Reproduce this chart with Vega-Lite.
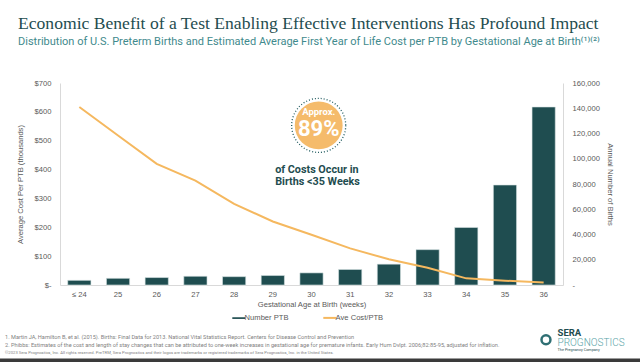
{
  "$schema": "https://vega.github.io/schema/vega-lite/v6.json",
  "width": 503,
  "height": 202,
  "autosize": {"type": "none"},
  "padding": {"left": 60, "top": 83, "right": 77, "bottom": 77},
  "background": "white",
  "config": {
    "view": {"stroke": null},
    "axis": {"labelFont": "Liberation Sans", "labelFontSize": 7.6, "labelColor": "#595959", "titleFont": "Liberation Sans", "titleFontSize": 7.6, "titleFontWeight": "normal", "titleColor": "#595959", "ticks": false, "grid": false, "domainColor": "#d9d9d9", "labelOverlap": false},
    "legend": {"labelFont": "Liberation Sans", "labelFontSize": 7.6, "labelColor": "#595959"}
  },
  "title": {
    "text": "Economic Benefit of a Test Enabling Effective Interventions Has Profound Impact",
    "subtitle": "Distribution of U.S. Preterm Births and Estimated Average First Year of Life Cost per PTB  by Gestational Age at Birth⁽¹⁾⁽²⁾",
    "anchor": "start", "frame": "group", "dx": -42, "offset": 32,
    "font": "Liberation Serif", "fontSize": 17.6, "fontWeight": "normal", "color": "#1f4d50",
    "subtitleFont": "Roboto", "subtitleFontSize": 11, "subtitleColor": "#3f8a8d", "subtitlePadding": 3
  },
  "data": {"values": [
    {"week": "≤ 24", "births": 3700, "cost": 617},
    {"week": "25", "births": 5300, "cost": 518},
    {"week": "26", "births": 5900, "cost": 420},
    {"week": "27", "births": 6900, "cost": 362},
    {"week": "28", "births": 6600, "cost": 281},
    {"week": "29", "births": 7500, "cost": 220},
    {"week": "30", "births": 9600, "cost": 174},
    {"week": "31", "births": 12300, "cost": 127},
    {"week": "32", "births": 16500, "cost": 89},
    {"week": "33", "births": 28000, "cost": 60},
    {"week": "34", "births": 45600, "cost": 23},
    {"week": "35", "births": 79200, "cost": 15},
    {"week": "36", "births": 141000, "cost": 9}
  ]},
  "encoding": {
    "x": {"field": "week", "type": "ordinal", "sort": null,
      "scale": {"paddingInner": 0.4, "paddingOuter": 0.2},
      "axis": {"title": "Gestational Age at Birth (weeks)", "labelAngle": 0, "labelPadding": 5, "titlePadding": 3}}
  },
  "layer": [
    {
      "mark": {"type": "bar", "stroke": "#d8e4e4", "strokeWidth": 0.6},
      "encoding": {
        "y": {"field": "births", "type": "quantitative", "scale": {"domain": [0, 160000], "nice": false},
          "axis": {"orient": "right", "title": "Annual Number of Births", "values": [0,20000,40000,60000,80000,100000,120000,140000,160000], "labelExpr": "datum.value === 0 ? '-' : format(datum.value, ',')", "labelPadding": 9, "titlePadding": 6}},
        "color": {"datum": "Number PTB", "type": "nominal",
          "scale": {"domain": ["Number PTB", "Ave Cost/PTB"], "range": ["#1f4d50", "#f5b85f"]},
          "legend": {"orient": "none", "legendX": 175, "legendY": 231, "direction": "horizontal", "title": null, "columnPadding": 30, "labelOffset": 2, "symbolSize": 169,
            "encode": {"symbols": {"update": {
              "shape": {"signal": "datum.value === 'Number PTB' ? 'M-1,-0.13H1V0.13H-1Z' : 'M-1,0H1'"},
              "fill": {"signal": "datum.value === 'Number PTB' ? '#1f4d50' : 'transparent'"},
              "stroke": {"signal": "datum.value === 'Number PTB' ? '#1f4d50' : '#f5b85f'"},
              "strokeWidth": {"signal": "datum.value === 'Number PTB' ? 0 : 2"}}}}}}
      }
    },
    {
      "mark": {"type": "line", "strokeWidth": 2},
      "encoding": {
        "y": {"field": "cost", "type": "quantitative", "scale": {"domain": [0, 700], "nice": false},
          "axis": {"orient": "left", "title": "Average Cost Per PTB (thousands)", "values": [0,100,200,300,400,500,600,700], "labelExpr": "datum.value === 0 ? '$-' : '$' + datum.value", "labelPadding": 9, "titlePadding": 10}},
        "color": {"datum": "Ave Cost/PTB", "type": "nominal",
          "legend": {"orient": "none", "legendX": 175, "legendY": 231, "direction": "horizontal", "title": null, "columnPadding": 30, "labelOffset": 2, "symbolSize": 169,
            "encode": {"symbols": {"update": {
              "shape": {"signal": "datum.value === 'Number PTB' ? 'M-1,-0.13H1V0.13H-1Z' : 'M-1,0H1'"},
              "fill": {"signal": "datum.value === 'Number PTB' ? '#1f4d50' : 'transparent'"},
              "stroke": {"signal": "datum.value === 'Number PTB' ? '#1f4d50' : '#f5b85f'"},
              "strokeWidth": {"signal": "datum.value === 'Number PTB' ? 0 : 2"}}}}}}
      }
    },
    {
      "data": {"values": [{}]},
      "layer": [
        {
          "mark": {"type": "point", "filled": false, "stroke": "#1f5a5e", "strokeWidth": 1.3, "strokeDash": [1, 2], "size": 2922, "opacity": 1},
          "encoding": {"x": {"datum": "30", "bandPosition": 0.81}, "y": {"datum": 553, "scale": {"domain": [0, 700], "nice": false}, "axis": null}}
        },
        {
          "mark": {"type": "point", "filled": true, "color": "#f5bb6b", "size": 2290, "opacity": 1},
          "encoding": {"x": {"datum": "30", "bandPosition": 0.81}, "y": {"datum": 553, "scale": {"domain": [0, 700], "nice": false}, "axis": null}}
        },
        {
          "mark": {"type": "text", "text": "Approx.", "font": "Roboto", "fontWeight": "bold", "fontSize": 9.5, "color": "white", "baseline": "middle"},
          "encoding": {"x": {"datum": "30", "bandPosition": 0.81}, "y": {"datum": 598, "scale": {"domain": [0, 700], "nice": false}, "axis": null}}
        },
        {
          "mark": {"type": "text", "text": "89%", "font": "Roboto", "fontWeight": "bold", "fontSize": 22, "color": "white", "baseline": "middle"},
          "encoding": {"x": {"datum": "30", "bandPosition": 0.81}, "y": {"datum": 540, "scale": {"domain": [0, 700], "nice": false}, "axis": null}}
        },
        {
          "mark": {"type": "text", "text": ["of Costs Occur in", "Births <35 Weeks"], "font": "Roboto", "fontWeight": "bold", "fontSize": 10.8, "lineHeight": 12, "color": "#1f4d50", "align": "left", "baseline": "middle"},
          "encoding": {"x": {"datum": "29", "bandPosition": 0.6}, "y": {"datum": 398, "scale": {"domain": [0, 700], "nice": false}, "axis": null}}
        },
        {
          "mark": {"type": "text", "text": ["1. Martin JA, Hamilton B, et al. (2015). Births: Final Data for 2013. National Vital Statistics Report. Centers for Disease Control and Prevention", "2. Phibbs: Estimates of the cost and length of stay changes that can be attributed to one-week increases in gestational age for premature infants. Early Hum Dvlpt. 2006;82:85-95, adjusted for inflation."], "font": "Roboto", "fontSize": 5.6, "lineHeight": 8, "color": "#7f7f7f", "align": "left", "baseline": "middle"},
          "encoding": {"x": {"datum": "≤ 24", "bandPosition": -2.7}, "y": {"datum": -180, "scale": {"domain": [0, 700], "nice": false}, "axis": null}}
        },
        {
          "mark": {"type": "text", "text": "©2023 Sera Prognostics, Inc. All rights reserved. PreTRM, Sera Prognostics and their logos are trademarks or registered trademarks of Sera Prognostics, Inc. in the United States.", "font": "Roboto", "fontSize": 4.2, "color": "#7f7f7f", "align": "left", "baseline": "middle"},
          "encoding": {"x": {"datum": "≤ 24", "bandPosition": -2.7}, "y": {"datum": -236, "scale": {"domain": [0, 700], "nice": false}, "axis": null}}
        },
        {
          "mark": {"type": "text", "text": "SERA", "font": "Roboto", "fontWeight": "bold", "fontSize": 9.5, "color": "#1f4d50", "align": "left", "baseline": "middle"},
          "encoding": {"x": {"datum": "36", "bandPosition": 1.1}, "y": {"datum": -165, "scale": {"domain": [0, 700], "nice": false}, "axis": null}}
        },
        {
          "mark": {"type": "text", "text": "PROGNOSTICS", "font": "Roboto", "fontWeight": 300, "fontSize": 10, "color": "#5aa4a8", "align": "left", "baseline": "middle"},
          "encoding": {"x": {"datum": "36", "bandPosition": 1.1}, "y": {"datum": -201, "scale": {"domain": [0, 700], "nice": false}, "axis": null}}
        },
        {
          "mark": {"type": "text", "text": "The Pregnancy Company", "font": "Roboto", "fontSize": 3.8, "color": "#1f4d50", "align": "left", "baseline": "middle"},
          "encoding": {"x": {"datum": "36", "bandPosition": 1.1}, "y": {"datum": -225, "scale": {"domain": [0, 700], "nice": false}, "axis": null}}
        },
        {
          "mark": {"type": "point", "filled": false, "stroke": "#2f6f73", "strokeWidth": 2.5, "size": 80, "opacity": 1},
          "encoding": {"x": {"datum": "36", "bandPosition": 0.6}, "y": {"datum": -190, "scale": {"domain": [0, 700], "nice": false}, "axis": null}}
        },
        {
          "mark": {"type": "rule", "color": "#3a3a3a", "strokeWidth": 4},
          "encoding": {"x": {"datum": "≤ 24", "bandPosition": -2.95}, "x2": {"datum": "36", "bandPosition": 4.7}, "y": {"datum": -262, "scale": {"domain": [0, 700], "nice": false}, "axis": null}}
        }
      ]
    }
  ],
  "resolve": {"scale": {"y": "independent"}}
}
